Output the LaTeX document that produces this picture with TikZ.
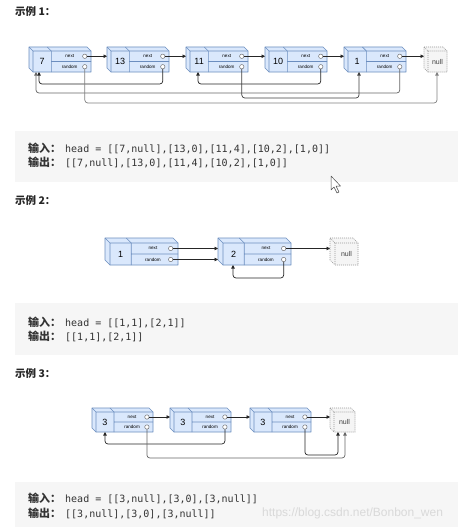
\documentclass[tikz,border=0pt]{standalone}
\usepackage{fontspec}
\setmainfont{Liberation Sans}
\newfontfamily\cjkf{Noto Sans CJK SC}
\newfontfamily\monof{DejaVu Sans Mono}
\usetikzlibrary{arrows.meta}
\definecolor{nfill}{HTML}{DAE8FC}
\definecolor{nline}{HTML}{6C8EBF}
\definecolor{nullfill}{HTML}{F5F5F5}
\definecolor{nullline}{HTML}{999999}
\definecolor{boxbg}{HTML}{F6F6F6}
\definecolor{txt}{HTML}{333333}
\newcommand\cjkb{\fontsize{11}{12}\cjkf\bfseries}
\newcommand\monot{\hspace{4pt}\fontsize{10}{12}\monof}
\tikzset{
 cubeshape/.style={fill=nfill, draw=nline, line width=0.6pt, line join=round},
 cubeline/.style={draw=nline, line width=0.6pt},
 nullshape/.style={fill=nullfill, draw=nullline, line width=0.6pt, dash pattern=on 1pt off 1pt},
 circ/.style={circle, draw=black!65, fill=white, line width=0.4pt, minimum size=4.4pt, inner sep=0pt},
 valtext/.style={font=\fontsize{9}{9}\selectfont, text=black, inner sep=0pt},
 labtext/.style={font=\fontsize{4.6}{4.6}\selectfont, text=black, inner sep=0pt},
 nulltext/.style={font=\fontsize{7}{7}\selectfont, text=black!75, inner sep=0pt},
 anchorbox/.style={inner sep=0pt, outer sep=0pt, anchor=north west},
 conn/.style={line width=0.7pt, rounded corners=3pt, draw=#1, -{Triangle[length=3.5pt,width=3.5pt]}},
 conn/.default=black!85,
 hdr/.style={anchor=west, inner sep=0pt, text=black!85, font={\fontsize{10.5}{12}\cjkf\bfseries}},
 iotext/.style={anchor=west, inner sep=0pt, text=txt},
}
% name, x0, y0, w, h, depth, value
\newcommand\LLnode[7]{%
 \pgfmathsetmacro\LLxa{#2}\pgfmathsetmacro\LLya{#3}%
 \pgfmathsetmacro\LLxb{#2+#4}\pgfmathsetmacro\LLyb{#3+#5}%
 \pgfmathsetmacro\LLd{#6}%
 \pgfmathsetmacro\LLxd{#2+0.36*#4}%
 \pgfmathsetmacro\LLym{#3+#6+(#5-#6)/2}%
 \pgfmathsetmacro\LLyn{#3+#6+(#5-#6)/4}%
 \pgfmathsetmacro\LLyr{#3+#6+3*(#5-#6)/4}%
 \pgfmathsetmacro\LLxc{#2+0.9*#4}%
 \pgfmathsetmacro\LLxt{\LLxd+0.55*(\LLxc-\LLxd)}%
 \path[cubeshape] (\LLxa,\LLya) -- (\LLxb-\LLd,\LLya) -- (\LLxb,\LLya+\LLd) -- (\LLxb,\LLyb) -- (\LLxa+\LLd,\LLyb) -- (\LLxa,\LLyb-\LLd) -- cycle;
 \draw[cubeline] (\LLxa,\LLya) -- (\LLxa+\LLd,\LLya+\LLd) -- (\LLxb,\LLya+\LLd) (\LLxa+\LLd,\LLya+\LLd) -- (\LLxa+\LLd,\LLyb);
 \draw[cubeline] (\LLxd-\LLd,\LLya) -- (\LLxd,\LLya+\LLd) -- (\LLxd,\LLyb) (\LLxd,\LLym) -- (\LLxb,\LLym);
 \node[anchorbox, minimum width=#4pt, minimum height=#5pt] (#1) at (\LLxa,\LLya) {};
 \node[valtext] (#1-v) at ({(\LLxa+\LLd+\LLxd)/2},\LLym) {#7};
 \node[labtext] (#1-tn) at (\LLxt,\LLyn) {next};
 \node[labtext] (#1-tr) at (\LLxt,\LLyr) {random};
 \node[circ] (#1-n) at (\LLxc,\LLyn) {};
 \node[circ] (#1-r) at (\LLxc,\LLyr) {};
}
% name, x0, y0, w, h, depth
\newcommand\LLnull[6]{%
 \pgfmathsetmacro\LLxa{#2}\pgfmathsetmacro\LLya{#3}%
 \pgfmathsetmacro\LLxb{#2+#4}\pgfmathsetmacro\LLyb{#3+#5}%
 \pgfmathsetmacro\LLd{#6}%
 \path[nullshape] (\LLxa,\LLya) -- (\LLxb-\LLd,\LLya) -- (\LLxb,\LLya+\LLd) -- (\LLxb,\LLyb) -- (\LLxa+\LLd,\LLyb) -- (\LLxa,\LLyb-\LLd) -- cycle;
 \draw[nullshape, fill=none] (\LLxa,\LLya) -- (\LLxa+\LLd,\LLya+\LLd) -- (\LLxb,\LLya+\LLd) (\LLxa+\LLd,\LLya+\LLd) -- (\LLxa+\LLd,\LLyb);
 \node[anchorbox, minimum width=#4pt, minimum height=#5pt] (#1) at (\LLxa,\LLya) {};
 \node[nulltext] (#1-v) at ({(\LLxa+\LLd+\LLxb)/2},{(\LLya+\LLd+\LLyb)/2}) {null};
}
\begin{document}
\begin{tikzpicture}[x=1pt,y=-1pt]
\fill[white] (0,0) rectangle (474,527);
\useasboundingbox (0,0) rectangle (474,527);

% ---------- Example 1 ----------
\node[hdr] (h1) at (15,12) {示例 1：};
\LLnode{A1}{29}{47}{62}{25}{4}{7}
\LLnode{A2}{107}{47}{62}{25}{4}{13}
\LLnode{A3}{186}{47}{62}{25}{4}{11}
\LLnode{A4}{265}{47}{62}{25}{4}{10}
\LLnode{A5}{344}{47}{62}{25}{4}{1}
\LLnull{An}{424}{47}{23}{25}{4}
\coordinate (e1a) at (0,84);
\coordinate (e1b) at (0,93);
\coordinate (e1c) at (0,98);
\coordinate (e1d) at (0,103);
\draw[conn] (A1-n.east) -- (A1-n.east -| A2.west);
\draw[conn] (A2-n.east) -- (A2-n.east -| A3.west);
\draw[conn] (A3-n.east) -- (A3-n.east -| A4.west);
\draw[conn] (A4-n.east) -- (A4-n.east -| A5.west);
\draw[conn] (A5-n.east) -- (A5-n.east -| An.west);
\draw[conn] (A2-r.south) -- (A2-r.south |- e1a) -| ([xshift=10pt]A1.south west);
\draw[conn] (A4-r.south) -- (A4-r.south |- e1a) -| ([xshift=12pt]A3.south west);
\draw[conn=black!60] (A5-r.south) -- (A5-r.south |- e1b) -| ([xshift=7pt]A1.south west);
\draw[conn=black!75] (A3-r.south) -- (A3-r.south |- e1c) -| ([xshift=15pt]A5.south west);
\draw[conn=black!50] (A1-r.south) -- (A1-r.south |- e1d) -| ([xshift=13pt]An.south west);

\fill[boxbg] (15,131) rectangle (458,182);
\node[iotext] (i1) at (28,148) {{\cjkb 输入：}{\monot head = [[7,null],[13,0],[11,4],[10,2],[1,0]]}};
\node[iotext] (o1) at (28,162) {{\cjkb 输出：}{\monot [[7,null],[13,0],[11,4],[10,2],[1,0]]}};
\filldraw[fill=white, draw=black!70, line width=0.5pt, line join=round]
  (331,176) -- (331,190) -- (334,187) -- (337,193) -- (339,192) -- (336,186) -- (340.5,186) -- cycle;

% ---------- Example 2 ----------
\node[hdr] (h2) at (15,201) {示例 2：};
\LLnode{B1}{105}{238}{73}{27}{5}{1}
\LLnode{B2}{218}{238}{73}{27}{5}{2}
\LLnull{Bn}{330}{238}{28}{27}{5}
\coordinate (e2a) at (0,278);
\draw[conn] (B1-n.east) -- (B1-n.east -| B2.west);
\draw[conn] (B1-r.east) -- (B1-r.east -| B2.west);
\draw[conn] (B2-n.east) -- (B2-n.east -| Bn.west);
\draw[conn] (B2-r.south) -- (B2-r.south |- e2a) -| ([xshift=15pt]B2.south west);

\fill[boxbg] (15,303) rectangle (458,355);
\node[iotext] (i2) at (28,322) {{\cjkb 输入：}{\monot head = [[1,1],[2,1]]}};
\node[iotext] (o2) at (28,336) {{\cjkb 输出：}{\monot [[1,1],[2,1]]}};

% ---------- Example 3 ----------
\node[hdr] (h3) at (15,374) {示例 3：};
\LLnode{C1}{92}{408}{61}{24}{4}{3}
\LLnode{C2}{170}{408}{61}{24}{4}{3}
\LLnode{C3}{250}{408}{61}{24}{4}{3}
\LLnull{Cn}{330}{408}{25}{24}{4}
\coordinate (e3a) at (0,444);
\coordinate (e3b) at (0,455);
\coordinate (e3c) at (0,458);
\draw[conn] (C1-n.east) -- (C1-n.east -| C2.west);
\draw[conn] (C2-n.east) -- (C2-n.east -| C3.west);
\draw[conn] (C3-n.east) -- (C3-n.east -| Cn.west);
\draw[conn] (C2-r.south) -- (C2-r.south |- e3a) -| ([xshift=13pt]C1.south west);
\draw[conn] (C3-r.south) -- (C3-r.south |- e3b) -| ([xshift=8pt]Cn.south west);
\draw[conn=black!60] (C1-r.south) -- (C1-r.south |- e3c) -| ([xshift=15pt]Cn.south west);

\fill[boxbg] (15,482) rectangle (458,527);
\node[iotext] (i3) at (28,498) {{\cjkb 输入：}{\monot head = [[3,null],[3,0],[3,null]]}};
\node[iotext] (o3) at (28,513) {{\cjkb 输出：}{\monot [[3,null],[3,0],[3,null]]}};
\node[anchor=west, inner sep=0pt, text=black!15, font=\fontsize{12}{12}\selectfont] (wm) at (262,513) {https://blog.csdn.net/Bonbon\_wen};
\end{tikzpicture}
\end{document}
